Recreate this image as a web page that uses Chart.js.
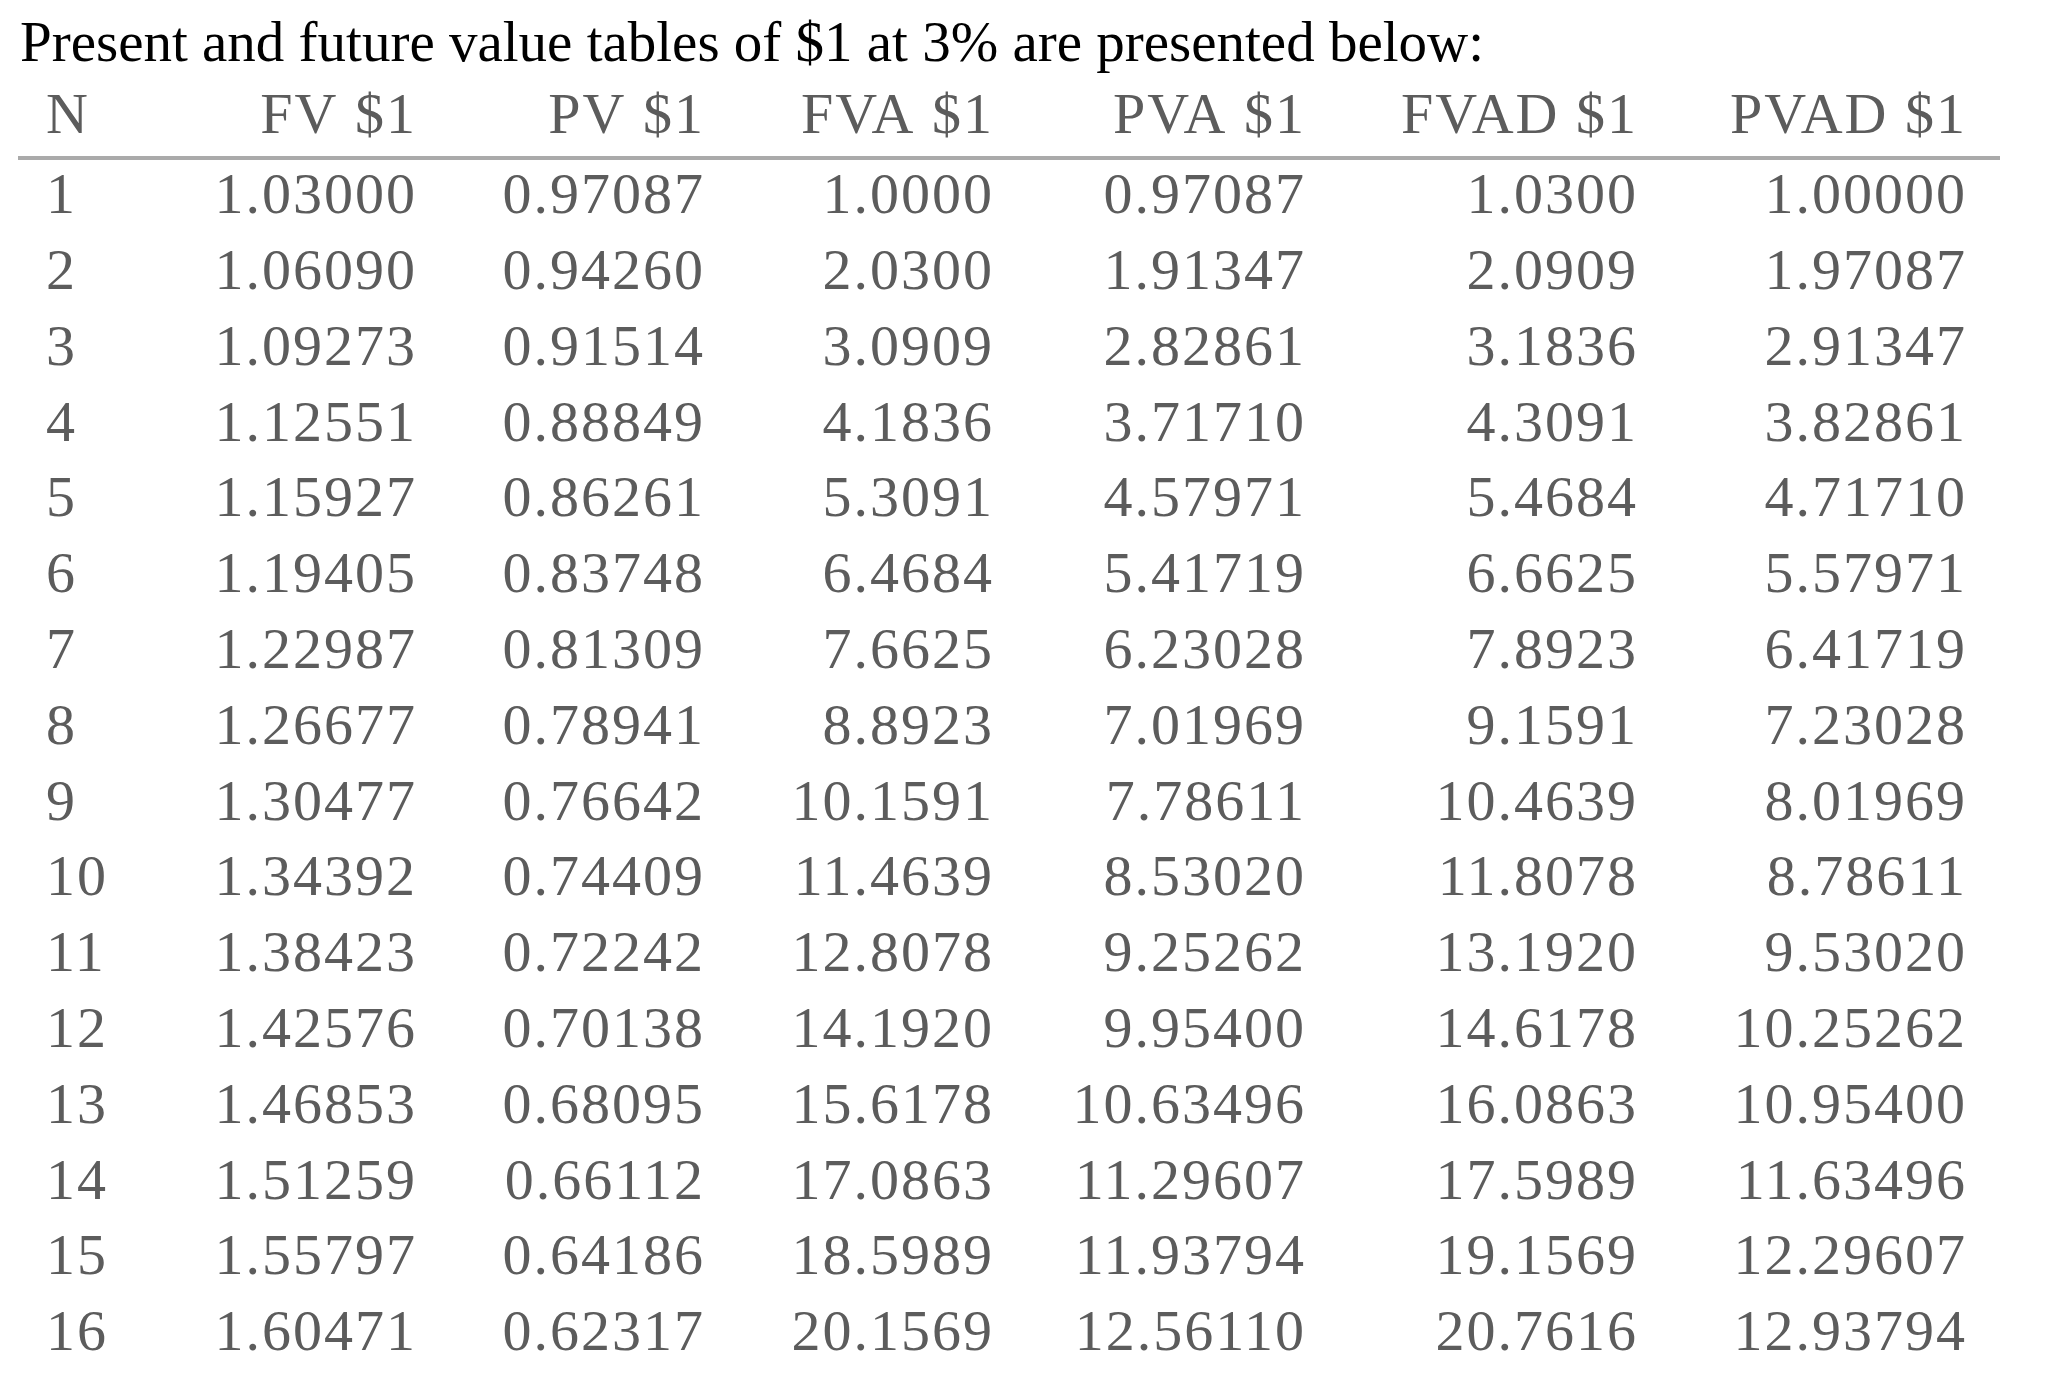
<!DOCTYPE html>
<html><head><meta charset="utf-8">
<script src="https://cdn.jsdelivr.net/npm/chart.js@4"></script>
<style>html,body{margin:0;padding:0;background:#fff}#w{width:2046px;height:1390px}</style>
</head><body><div id="w"><canvas id="c"></canvas></div>
<script>
const title = "Present and future value tables of $1 at 3% are presented below:";
const headers = ["N","FV $1","PV $1","FVA $1","PVA $1","FVAD $1","PVAD $1"];
const N = [1,2,3,4,5,6,7,8,9,10,11,12,13,14,15,16];
const FV = [1.03000,1.06090,1.09273,1.12551,1.15927,1.19405,1.22987,1.26677,1.30477,1.34392,1.38423,1.42576,1.46853,1.51259,1.55797,1.60471];
const PV = [0.97087,0.94260,0.91514,0.88849,0.86261,0.83748,0.81309,0.78941,0.76642,0.74409,0.72242,0.70138,0.68095,0.66112,0.64186,0.62317];
const FVA = [1.0000,2.0300,3.0909,4.1836,5.3091,6.4684,7.6625,8.8923,10.1591,11.4639,12.8078,14.1920,15.6178,17.0863,18.5989,20.1569];
const PVA = [0.97087,1.91347,2.82861,3.71710,4.57971,5.41719,6.23028,7.01969,7.78611,8.53020,9.25262,9.95400,10.63496,11.29607,11.93794,12.56110];
const FVAD = [1.0300,2.0909,3.1836,4.3091,5.4684,6.6625,7.8923,9.1591,10.4639,11.8078,13.1920,14.6178,16.0863,17.5989,19.1569,20.7616];
const PVAD = [1.00000,1.97087,2.91347,3.82861,4.71710,5.57971,6.41719,7.23028,8.01969,8.78611,9.53020,10.25262,10.95400,11.63496,12.29607,12.93794];
const decimals = [0,5,5,4,5,4,5];
const columns = [N,FV,PV,FVA,PVA,FVAD,PVAD];

// layout (styles/positions, not data)
const colX = [46,417,705,994,1306,1638,1967];
const colAlign = ['left','right','right','right','right','right','right'];
const rowY0 = 198, rowStep = 75.8, headerY = 118, ruleY = 158;
const font = '"Liberation Serif","DejaVu Serif",serif';

const datasets = columns.map((col,ci)=>({
  label: headers[ci],
  data: col.map((v,ri)=>({x: colX[ci], y: rowY0 + rowStep*ri, t: v.toFixed(decimals[ci])})),
  pointRadius: 0, showLine: false
}));

const textPlugin = {
  id:'txt',
  afterDatasetsDraw(chart){
    const ctx = chart.ctx, xs = chart.scales.x, ys = chart.scales.y;
    ctx.save();
    ctx.textBaseline = 'middle';
    ctx.fillStyle = '#000';
    ctx.font = '57px ' + font;
    ctx.textAlign = 'left';
    ctx.fillText(title, xs.getPixelForValue(20), ys.getPixelForValue(46));
    ctx.fillStyle = '#5c5c5c';
    ctx.font = '58px ' + font;
    ctx.letterSpacing = '2px';
    headers.forEach((h,ci)=>{
      ctx.textAlign = colAlign[ci];
      ctx.fillText(h, xs.getPixelForValue(colX[ci]), ys.getPixelForValue(headerY));
    });
    ctx.strokeStyle = '#aaaaaa'; ctx.lineWidth = 4;
    ctx.beginPath();
    ctx.moveTo(xs.getPixelForValue(18), ys.getPixelForValue(ruleY));
    ctx.lineTo(xs.getPixelForValue(2000), ys.getPixelForValue(ruleY));
    ctx.stroke();
    chart.data.datasets.forEach((ds,ci)=>{
      const meta = chart.getDatasetMeta(ci);
      ctx.textAlign = colAlign[ci];
      meta.data.forEach((el,ri)=>{ ctx.fillText(ds.data[ri].t, el.x, el.y); });
    });
    ctx.restore();
  }
};

new Chart(document.getElementById('c'),{
  type:'scatter',
  data:{datasets},
  options:{
    responsive:true, maintainAspectRatio:false, animation:false,
    layout:{padding:0},
    plugins:{legend:{display:false},tooltip:{enabled:false}},
    scales:{
      x:{type:'linear',min:0,max:2046,display:false},
      y:{type:'linear',min:0,max:1390,reverse:true,display:false}
    }
  },
  plugins:[textPlugin]
});
</script></body></html>
